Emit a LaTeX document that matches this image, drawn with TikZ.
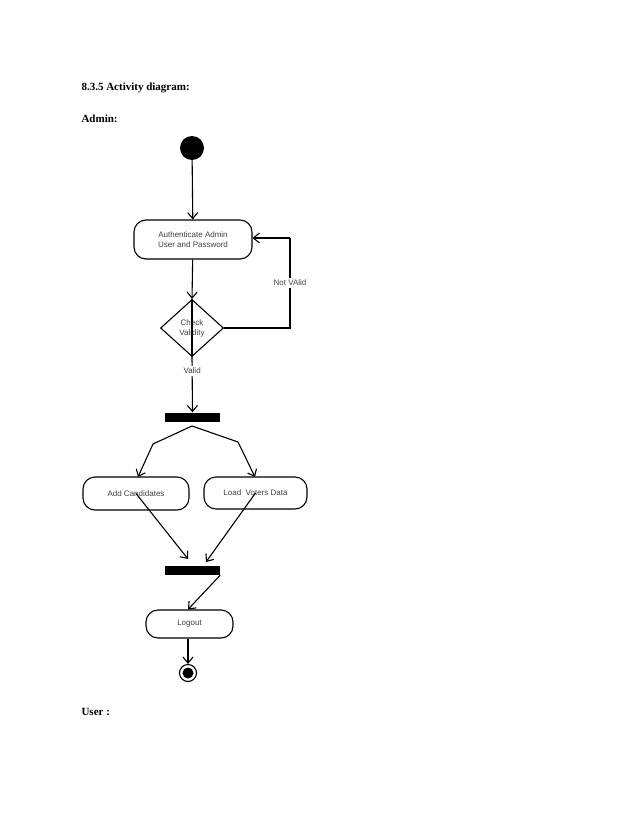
\documentclass[tikz,border=0pt]{standalone}
\usepackage{fontspec}
\setmainfont{Liberation Serif}
\newfontfamily\diafont{Liberation Sans}
\usetikzlibrary{shapes.geometric,arrows.meta}
\begin{document}
\begin{tikzpicture}[x=1pt,y=-1pt,
  act/.style={draw,line width=1.1pt,rounded corners=12pt,font=\diafont\fontsize{8}{10}\selectfont,text=black!75,align=center},
  bar/.style={fill=black,minimum width=55pt,minimum height=9pt,inner sep=0pt},
  flow/.style={line width=1.1pt,-{Straight Barb[length=6pt,width=10pt]}},
  lbl/.style={font=\diafont\fontsize{8}{10}\selectfont,text=black!75,fill=white,inner sep=2pt},
  head/.style={font=\bfseries\fontsize{11}{13}\selectfont,anchor=west}]
\useasboundingbox (0,0) rectangle (638,826);
\node[head] (h1) at (78,88) {8.3.5 Activity diagram:};
\node[head] (h2) at (78,119) {Admin:};
\node[head] (h3) at (78,712) {User :};
\node[circle,fill=black,minimum size=24pt,inner sep=0pt] (start) at (192,148) {};
\node[act,minimum width=118pt,minimum height=39pt] (auth) at (193,239.5) {Authenticate Admin\\User and Password};
\node[diamond,draw,line width=1.1pt,minimum width=63pt,minimum height=57pt,inner sep=0pt,font=\diafont\fontsize{8}{10}\selectfont,text=black!75,align=center] (chk) at (192,328) {Check\\Validity};
\node[bar] (fork) at (192.5,417) {};
\node[act,minimum width=106pt,minimum height=33pt] (add) at (136,493.5) {Add Candidates};
\node[act,minimum width=103pt,minimum height=32pt] (load) at (255.5,493) {Load\ \ Voters Data};
\node[bar] (join) at (192.5,570.5) {};
\node[act,minimum width=87pt,minimum height=28pt] (logout) at (189.5,624) {Logout};
\node[circle,draw,line width=1.1pt,minimum size=17pt,inner sep=0pt] (end) at (188,673) {};
\node[circle,fill=black,minimum size=11pt,inner sep=0pt] (endin) at (end.center) {};
\coordinate (c1) at (290,238);
\coordinate (c2) at (290,328);
\draw[flow] (start) -- (auth);
\draw[flow] (auth) -- (chk.north);
\draw[line width=1.1pt] (chk.east) -- (c2) -- (c1) node[lbl,pos=0.5] (nv) {Not VAlid};
\draw[flow] (c1) -- (auth.east |- c1);
\draw[line width=1.1pt] (chk.north) -- (chk.south);
\draw[flow] (chk.south) -- node[lbl,pos=0.25] (v) {Valid} (fork.north);
\coordinate (f1) at (153,444);
\coordinate (f2) at (238,442);
\coordinate (fo) at (192,426);
\draw[flow] (fo) -- (f1) -- (138,477);
\draw[flow] (fo) -- (f2) -- (255,477);
\draw[flow] (add.center) -- (188,559);
\draw[flow] (load.center) -- (206,562);
\draw[flow] (join.south east) -- (logout.north -| 188,0);
\draw[flow] (logout.south -| end) -- (end.north);
\end{tikzpicture}
\end{document}
